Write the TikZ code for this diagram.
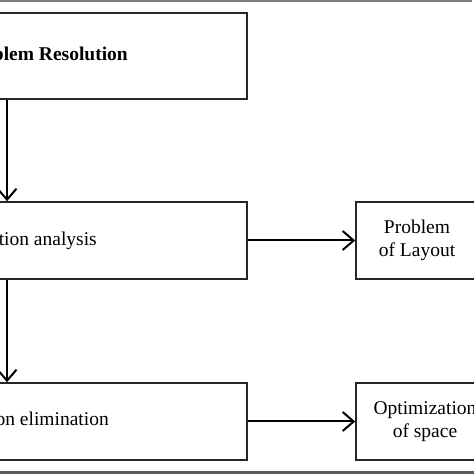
\documentclass[tikz,border=0pt]{standalone}
\usepackage{fontspec}
\setmainfont{Liberation Serif}
\usetikzlibrary{arrows.meta}
\newcommand{\boxH}{77}
\newcommand{\rowA}{418}
\newcommand{\rowB}{233.5}
\newcommand{\rowC}{52.5}
\definecolor{bandTop}{HTML}{7C7C7C}
\definecolor{bandBot}{HTML}{5C5C5C}

\begin{document}
\begin{tikzpicture}[x=1pt,y=1pt,
  stepbox/.style={draw=black!85, line width=1.6pt, rectangle, inner sep=0pt, align=center,
    font=\fontsize{19.5}{23}\selectfont},
  flowarrow/.style={line width=2pt, -{Straight Barb[length=11pt,width=19pt,line width=2pt]}},
  lbl/.style={anchor=base east, inner sep=0pt, font=\fontsize{19.5}{23}\selectfont}]

\useasboundingbox (0,0) rectangle (474,474);
\clip (0,0) rectangle (474,474);

% gray edges of the scan
\fill[bandTop] (0,472) rectangle (472,474);
\fill[bandBot] (0,0) rectangle (474,2.5);

% left column
\node[stepbox, minimum width=400, minimum height=86] (resolution) at (47,\rowA) {};
\node[stepbox, minimum width=400, minimum height=\boxH] (analysis) at (47,\rowB) {};
\node[stepbox, minimum width=400, minimum height=\boxH] (elimination) at (47,\rowC) {};
\node[lbl, font=\fontsize{19.5}{23}\selectfont\bfseries] (resolutiontxt) at (128,413) {blem Resolution};
\node[lbl] (analysistxt) at (97,228) {tion analysis};
\node[lbl] (eliminationtxt) at (109,48) {on elimination};

% right column
\node[stepbox, minimum width=122, minimum height=\boxH] (layout) at (417,\rowB) {Problem\\of Layout};
\node[stepbox, minimum width=138, minimum height=\boxH] (space) at (425,\rowC) {Optimization\\of space};

\coordinate (colx) at (7,0);
\draw[flowarrow] (colx |- resolution.south) -- (colx |- analysis.north);
\draw[flowarrow] (colx |- analysis.south) -- (colx |- elimination.north);
\draw[flowarrow] (analysis.east) -- (layout.west);
\draw[flowarrow] (elimination.east) -- (space.west);
\end{tikzpicture}
\end{document}
